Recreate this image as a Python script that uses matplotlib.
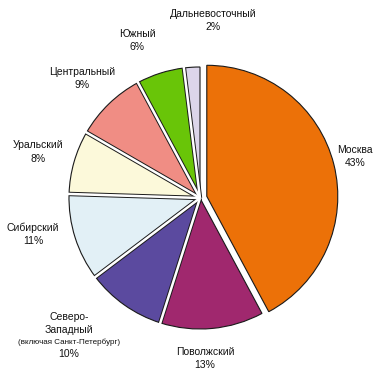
import matplotlib
matplotlib.use("Agg")
import matplotlib.pyplot as plt
import numpy as np

regions = ["Москва", "Поволжский", "Северо-\nЗападный", "Сибирский",
           "Уральский", "Центральный", "Южный", "Дальневосточный"]
shares = [43, 13, 10, 11, 8, 9, 6, 2]
colors = ["#EC7108", "#A0286E", "#5B4A9F", "#E2F0F6",
          "#FCF9DA", "#F08D84", "#69C508", "#DCD5EA"]

W, H = 383, 380
fig = plt.figure(figsize=(W / 100, H / 100), dpi=100)
ax = fig.add_axes([0, 0, 1, 1])

cx, cy, R = 200, H - 198, 131
# explode offsets are in data units (pixels here)
explode = [7.0, 0, 0, 0, 0, 0, 0, 0]
wedges, _ = ax.pie(shares, colors=colors, explode=explode, startangle=90,
                   counterclock=False, center=(cx, cy), radius=R, frame=True,
                   wedgeprops=dict(edgecolor="#1a1a1a", linewidth=0.8))


def shared_angle(w1, w2):
    best = None
    for a in (w1.theta1, w1.theta2):
        for b in (w2.theta1, w2.theta2):
            d = abs(((a - b) + 180) % 360 - 180)
            if best is None or d < best[0]:
                best = (d, a)
    return best[1]


# white separating gaps (with thin dark borders) between the non-exploded wedges
bounds = [shared_angle(wedges[i], wedges[i + 1]) for i in range(1, len(wedges) - 1)]
for layer, (col, lw, ext) in enumerate([("#1a1a1a", 3.2, 0.0), ("white", 1.8, 3.0)]):
    for th in bounds:
        t = np.deg2rad(th)
        ax.plot([cx, cx + (R + ext) * np.cos(t)], [cy, cy + (R + ext) * np.sin(t)],
                color=col, lw=lw, solid_capstyle="butt", zorder=3 + layer)

ax.set_xlim(0, W)
ax.set_ylim(0, H)
ax.set_aspect("equal")
ax.axis("off")

font = dict(family=["Liberation Sans", "DejaVu Sans"], fontsize=7.5,
            ha="center", va="center", color="#111111")

# label positions (image pixel coords, y from top)
label_pos = {
    "Москва": (355, 150),
    "Поволжский": (205, 352),
    "Сибирский": (33, 228),
    "Уральский": (38, 145),
    "Центральный": (82, 72),
    "Южный": (137, 34),
    "Дальневосточный": (213, 14),
}
line_h = 13.5
for name, val in zip(regions, shares):
    if name.startswith("Северо"):
        x, y = 69, 317
        ax.text(x, H - y, "Северо-", **font)
        ax.text(x, H - (y + 13), "Западный", **font)
        f2 = dict(font)
        f2["fontsize"] = 5.8
        ax.text(x, H - (y + 25), "(включая Санкт-Петербург)", **f2)
        ax.text(x, H - (y + 37), f"{val}%", **font)
        continue
    x, y = label_pos[name]
    ax.text(x, H - y, name, **font)
    ax.text(x, H - (y + line_h), f"{val}%", **font)

fig.savefig("out.png", dpi=100)
